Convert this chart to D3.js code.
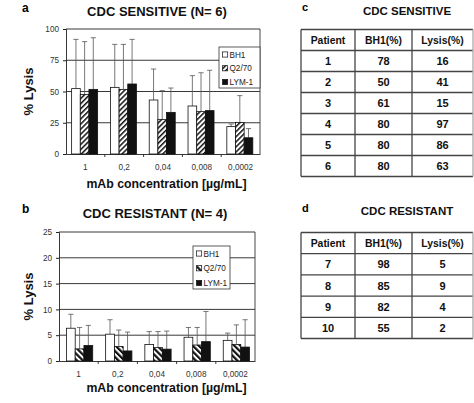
<!DOCTYPE html>
<html>
<head>
<meta charset="utf-8">
<script src="https://cdn.jsdelivr.net/npm/d3@7"></script>
<style>
  body { margin: 0; background: #fff; }
  svg { display: block; font-family: "Liberation Sans", Arial, sans-serif; }
</style>
</head>
<body>
<div id="vis"></div>
<script>
// categories + series
const concLabels = ["1", "0,2", "0,04", "0,008", "0,0002"];
const seriesNames = ["BH1", "Q2/70", "LYM-1"];

// panel a: CDC sensitive, mean and SD (% lysis)
const sensBH1 = [52.3, 53.3, 43.2, 38.4, 21.9];
const sensQ270 = [47.7, 51.7, 27.7, 33.9, 25.3];
const sensLYM1 = [51.7, 56, 33.3, 34.7, 13];
const sensBH1Sd = [39.4, 34.4, 24.8, 24.3, 2.1];
const sensQ270Sd = [42.2, 36, 23, 31.1, 21.4];
const sensLYM1Sd = [41.3, 35.7, 19.5, 32.3, 7.3];

// panel b: CDC resistant
const resBH1 = [6.35, 5.2, 3.2, 4.6, 4.0];
const resQ270 = [2.35, 2.8, 2.6, 3.1, 3.2];
const resLYM1 = [3.0, 1.95, 2.3, 3.75, 2.7];
const resBH1Sd = [2.7, 2.8, 2.5, 1.9, 1.4];
const resQ270Sd = [4.15, 3.2, 3.1, 3.4, 3.8];
const resLYM1Sd = [3.9, 3.65, 3.5, 5.85, 5.3];

// tables c and d
const tableHeader = ["Patient", "BH1(%)", "Lysis(%)"];
const sensPatients = ["1", "2", "3", "4", "5", "6"];
const sensPatientBH1 = ["78", "50", "61", "80", "80", "80"];
const sensPatientLysis = ["16", "41", "15", "97", "86", "63"];
const resPatients = ["7", "8", "9", "10"];
const resPatientBH1 = ["98", "85", "82", "55"];
const resPatientLysis = ["5", "9", "4", "2"];

const W = 474, H = 403;
const svg = d3.select("#vis").append("svg")
  .attr("width", W).attr("height", H);
svg.append("rect").attr("width", W).attr("height", H).attr("fill", "#fff");

const defs = svg.append("defs");
// thin "/" hatch for panel a
const pa = defs.append("pattern").attr("id", "hatchA")
  .attr("patternUnits", "userSpaceOnUse").attr("width", 3.6).attr("height", 3.6)
  .attr("patternTransform", "rotate(45)");
pa.append("rect").attr("width", 3.6).attr("height", 3.6).attr("fill", "#fff");
pa.append("rect").attr("width", 1.5).attr("height", 3.6).attr("fill", "#111");
// bold "\" hatch for panel b
const pb = defs.append("pattern").attr("id", "hatchB")
  .attr("patternUnits", "userSpaceOnUse").attr("width", 4.2).attr("height", 4.2)
  .attr("patternTransform", "rotate(-45)");
pb.append("rect").attr("width", 4.2).attr("height", 4.2).attr("fill", "#fff");
pb.append("rect").attr("width", 2.2).attr("height", 4.2).attr("fill", "#111");

function drawPanel(cfg) {
  const { left, right, top, bottom, yMax, step, means, sds, hatch, legend } = cfg;
  const g = svg.append("g");

  const x0 = d3.scaleBand().domain(concLabels).range([left, right]).padding(0);
  const bw = x0.bandwidth();
  const x1 = d3.scaleBand().domain(seriesNames).range([0, bw * 0.67]).padding(0);
  const y = d3.scaleLinear().domain([0, yMax]).range([bottom, top]);
  const fills = [ "#fff", `url(#${hatch})`, "#111" ];

  // grid
  g.append("g").selectAll("line")
    .data(d3.range(step, yMax + 0.001, step))
    .join("line")
    .attr("x1", left).attr("x2", right)
    .attr("y1", d => y(d)).attr("y2", d => y(d))
    .attr("stroke", "#222").attr("stroke-width", 0.9);
  // right border
  g.append("line").attr("x1", right).attr("x2", right)
    .attr("y1", top).attr("y2", bottom).attr("stroke", "#333").attr("stroke-width", 0.9);

  // y axis
  const yAxis = d3.axisLeft(y).tickValues(d3.range(0, yMax + 0.001, step))
    .tickSize(3).tickPadding(4).tickFormat(d3.format("d"));
  g.append("g").attr("transform", `translate(${left},0)`).call(yAxis)
    .call(a => a.select(".domain").attr("stroke", "#222").attr("stroke-width", 0.9))
    .call(a => a.selectAll("line").attr("stroke", "#222"))
    .call(a => a.selectAll("text").attr("font-size", 8.2).attr("fill", "#333")
      .attr("font-family", "Liberation Sans, Arial, sans-serif"));

  // x axis, ticks at category boundaries
  const xAxis = d3.axisBottom(x0).tickSize(0).tickPadding(10);
  g.append("g").attr("transform", `translate(0,${bottom})`).call(xAxis)
    .call(a => a.select(".domain").attr("stroke", "#222").attr("stroke-width", 0.9))
    .call(a => a.selectAll("text").attr("font-size", 8.2).attr("fill", "#333")
      .attr("font-family", "Liberation Sans, Arial, sans-serif"));
  g.append("g").selectAll("line")
    .data(concLabels.slice(1))
    .join("line")
    .attr("x1", d => x0(d)).attr("x2", d => x0(d))
    .attr("y1", bottom).attr("y2", bottom + 3)
    .attr("stroke", "#222").attr("stroke-width", 0.9);

  // bars
  const rows = [];
  concLabels.forEach((c, i) => seriesNames.forEach((s, j) => {
    rows.push({ c, s, j, v: means[j][i], sd: sds[j][i] });
  }));
  const gx = d => x0(d.c) + bw * cfg.offset + x1(d.s);
  const cap = 2.6;

  // error bars
  const eb = g.append("g").attr("stroke", "#555").attr("stroke-width", 0.8);
  eb.selectAll("line.v").data(rows).join("line").attr("class", "v")
    .attr("x1", d => gx(d) + x1.bandwidth() / 2).attr("x2", d => gx(d) + x1.bandwidth() / 2)
    .attr("y1", d => y(d.v)).attr("y2", d => y(d.v + d.sd));
  eb.selectAll("line.c").data(rows).join("line").attr("class", "c")
    .attr("x1", d => gx(d) + x1.bandwidth() / 2 - cap).attr("x2", d => gx(d) + x1.bandwidth() / 2 + cap)
    .attr("y1", d => y(d.v + d.sd)).attr("y2", d => y(d.v + d.sd));

  g.append("g").selectAll("rect").data(rows).join("rect")
    .attr("x", gx).attr("width", x1.bandwidth())
    .attr("y", d => y(d.v)).attr("height", d => bottom - y(d.v))
    .attr("fill", d => fills[d.j])
    .attr("stroke", "#111").attr("stroke-width", 0.8);

  // legend
  const lg = g.append("g");
  lg.append("rect").attr("x", legend.x).attr("y", legend.y)
    .attr("width", legend.w).attr("height", legend.h)
    .attr("fill", "#fff").attr("stroke", "#333").attr("stroke-width", 0.8);
  const ly = d3.scalePoint().domain(seriesNames)
    .range([legend.y + 7.5, legend.y + legend.h - 6]);
  seriesNames.forEach((s, j) => {
    lg.append("rect").attr("x", legend.x + 3.5).attr("y", ly(s) - 2.6)
      .attr("width", 5.2).attr("height", 5.2)
      .attr("fill", fills[j]).attr("stroke", "#111").attr("stroke-width", 0.7);
    lg.append("text").attr("x", legend.x + 10.5).attr("y", ly(s) + 3)
      .attr("font-size", 8.2).attr("fill", "#222").text(s);
  });

  // labels
  g.append("text").attr("x", 22).attr("y", cfg.letterY)
    .attr("font-size", 12).attr("font-weight", "bold").text(cfg.letter);
  g.append("text").attr("x", cfg.titleX).attr("y", cfg.titleY)
    .attr("text-anchor", "middle").attr("font-size", 13).attr("font-weight", "bold")
    .attr("fill", "#111").text(cfg.title);
  g.append("text")
    .attr("transform", `translate(33,${(top + bottom) / 2}) rotate(-90)`)
    .attr("text-anchor", "middle").attr("font-size", 13).attr("font-weight", "bold")
    .attr("fill", "#111").text("% Lysis");
  g.append("text").attr("x", 166.5).attr("y", cfg.xTitleY)
    .attr("text-anchor", "middle").attr("font-size", 12.3).attr("font-weight", "bold")
    .attr("fill", "#111").text("mAb concentration [µg/mL]");
}

drawPanel({
  left: 66, right: 260, top: 29, bottom: 154, yMax: 100, step: 25,
  means: [sensBH1, sensQ270, sensLYM1], sds: [sensBH1Sd, sensQ270Sd, sensLYM1Sd],
  hatch: "hatchA", offset: 0.145,
  legend: { x: 219, y: 47, w: 41, h: 41 },
  letter: "a", letterY: 12, title: "CDC SENSITIVE (N= 6)", titleX: 157, titleY: 16,
  xTitleY: 187.5
});

drawPanel({
  left: 59, right: 255, top: 232, bottom: 361, yMax: 25, step: 5,
  means: [resBH1, resQ270, resLYM1], sds: [resBH1Sd, resQ270Sd, resLYM1Sd],
  hatch: "hatchB", offset: 0.19,
  legend: { x: 193, y: 246, w: 37, h: 43 },
  letter: "b", letterY: 213, title: "CDC RESISTANT (N= 4)", titleX: 155, titleY: 218,
  xTitleY: 392
});

function drawTable(cfg) {
  const g = svg.append("g");
  const cols = [cfg.patients, cfg.bh1, cfg.lysis];
  const nRows = cfg.patients.length + 1;
  const xs = [301, 355, 412, 473];
  const yr = d3.scaleLinear().domain([0, nRows]).range([cfg.top, cfg.bottom]);

  g.append("text").attr("x", 302).attr("y", cfg.letterY)
    .attr("font-size", 11).attr("font-weight", "bold").text(cfg.letter);
  g.append("text").attr("x", 407).attr("y", cfg.titleY)
    .attr("text-anchor", "middle").attr("font-size", 11.5).attr("font-weight", "bold")
    .attr("fill", "#111").text(cfg.title);

  // grid lines
  g.selectAll("line.h").data(d3.range(nRows + 1)).join("line").attr("class", "h")
    .attr("x1", xs[0]).attr("x2", xs[3])
    .attr("y1", d => yr(d)).attr("y2", d => yr(d))
    .attr("stroke", "#444").attr("stroke-width", 1.3);
  g.selectAll("line.v").data(xs).join("line").attr("class", "v")
    .attr("x1", d => d).attr("x2", d => d)
    .attr("y1", yr(0)).attr("y2", yr(nRows))
    .attr("stroke", (d, i) => i === 3 ? "#aaa" : "#444").attr("stroke-width", 1.3);

  tableHeader.forEach((h, c) => {
    g.append("text").attr("x", (xs[c] + xs[c + 1]) / 2).attr("y", yr(0.5) + 3.7)
      .attr("text-anchor", "middle").attr("font-size", 10.4).attr("font-weight", "bold")
      .attr("fill", "#111").text(h);
  });
  cols.forEach((col, c) => {
    col.forEach((v, r) => {
      g.append("text").attr("x", (xs[c] + xs[c + 1]) / 2).attr("y", yr(r + 1.5) + 4)
        .attr("text-anchor", "middle").attr("font-size", 11).attr("font-weight", "bold")
        .attr("fill", "#111").text(v);
    });
  });
}

drawTable({
  patients: sensPatients, bh1: sensPatientBH1, lysis: sensPatientLysis,
  top: 29.5, bottom: 176.5, letter: "c", letterY: 11, title: "CDC SENSITIVE", titleY: 15
});
drawTable({
  patients: resPatients, bh1: resPatientBH1, lysis: resPatientLysis,
  top: 232.5, bottom: 338.5, letter: "d", letterY: 212, title: "CDC RESISTANT", titleY: 215
});
</script>
</body>
</html>
